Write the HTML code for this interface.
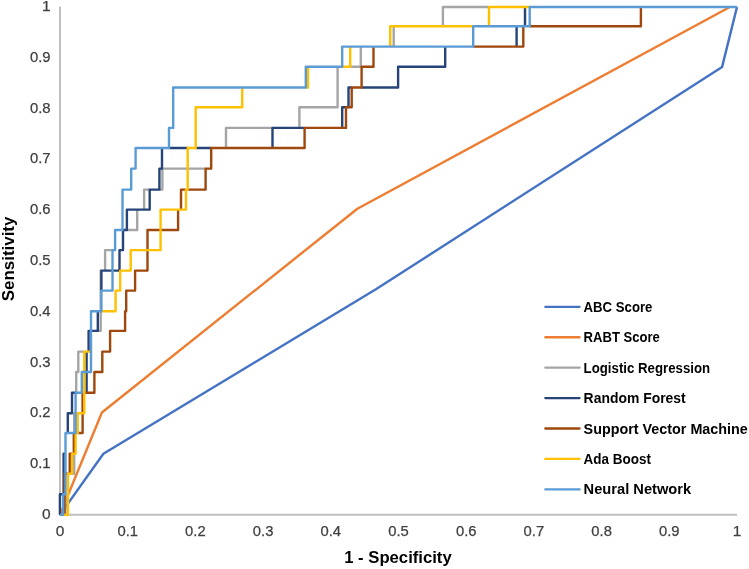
<!DOCTYPE html>
<html><head><meta charset="utf-8"><style>
html,body{margin:0;padding:0;background:#fff;}
body{width:749px;height:569px;overflow:hidden;position:relative;font-family:"Liberation Sans",sans-serif;}
svg{position:absolute;left:0;top:0;will-change:transform;}
</style></head><body>
<svg width="749" height="569" viewBox="0 0 749 569">
<rect width="749" height="569" fill="#fff"/>
<line x1="60" y1="6.5" x2="60" y2="514.7" stroke="#BFBFBF" stroke-width="2"/>
<line x1="59" y1="514.7" x2="737" y2="514.7" stroke="#BFBFBF" stroke-width="2"/>
<g fill="none" stroke-width="2.4" stroke-linejoin="round" stroke-linecap="butt">
<path d="M60,514.7L103.4,453.8L375.9,289.3L722.1,66.9L737,7" stroke="#4472C4"/>
<path d="M60,514.7L101.9,412.5L357.4,208.7L729.9,7" stroke="#ED7D31"/>
<path d="M65.5,514.7L65.5,494.2M72.1,473.7L74.2,473.7L74.2,453.7M74.2,433L74.2,413.2L76.2,413.2M76.2,392.7L76.2,372L78.3,372L78.3,351.6L84.3,351.6M97.8,330.9L100.7,330.9L100.7,270.6L101.4,270.6M105.1,270.6L105.1,250.1L112.5,250.1M122.5,230L123,230M126.9,230L137.2,230L137.2,209.6M144.1,209.6L144.1,189.6L149.7,189.6M159.4,189.6L162.4,189.6L162.4,168.6L205.6,168.6M226,148L226,127.9L272.5,127.9M299.4,127.9L299.4,107.2L337.6,107.2L337.6,66.7M350.2,66.7L360.8,66.7L360.8,46.6M393.7,46.6L393.7,26.3M442.9,26.3L442.9,7L489,7" stroke="#A5A5A5"/>
<path d="M59.9,514.7L59.9,494.2L63.1,494.2M63.6,494.2L63.6,453.7L65.5,453.7M67.8,433L67.8,413.2L72,413.2L72,392.7L75.6,392.7M81.8,392.7L82.6,392.7M86.6,392.7L86.6,351.6M88.6,351.6L88.6,330.9L97.8,330.9L97.8,311.3M101.4,290.6L101.4,270.6L119.5,270.6L119.5,250.1L123,250.1L123,230L126.9,230L126.9,209.6L149.7,209.6L149.7,189.6L159.4,189.6L159.4,168.6L162,168.6L162,148M169,148L187.7,148M195.7,148L211.2,148M272.5,148L272.5,127.9L304.6,127.9M342.2,127.9L342.2,107.2L346,107.2M348.5,107.2L348.5,87.5L351.7,87.5M361.6,87.5L398.1,87.5L398.1,66.7L445.2,66.7L445.2,46.6M516.6,46.6L516.6,26.3M525,26.3L525,7" stroke="#264478"/>
<path d="M64.5,514.7L64.5,473.7L68,473.7M69.7,473.7L69.7,453.7L72.1,453.7M73.8,453.7L73.8,433M77.7,433L82.6,433L82.6,392.7L94.4,392.7L94.4,372L102.3,372L102.3,351.6L110.1,351.6L110.1,330.9L125.1,330.9L125.1,311.3L126.2,311.3L126.2,290.6L135.1,290.6L135.1,270.6L147.5,270.6L147.5,230L178.1,230L178.1,209.6M181,209.6L181,189.6L186,189.6M187.7,189.6L205.6,189.6L205.6,168.6L211.2,168.6L211.2,148L304.6,148L304.6,127.9L346,127.9L346,107.2L351.7,107.2L351.7,87.5L361.6,87.5L361.6,66.7L373.5,66.7L373.5,46.6M473.2,46.6L523.3,46.6L523.3,26.3M529.7,26.3L640.9,26.3L640.9,7" stroke="#9E480E"/>
<path d="M63.1,514.7L68,514.7L68,473.7L72.1,473.7L72.1,453.7L75.6,453.7L75.6,433L77.7,433L77.7,413.2L84.3,413.2L84.3,351.6L91,351.6M101.4,311.3L115.6,311.3L115.6,290.6L120.2,290.6L120.2,270.6L130.7,270.6L130.7,250.1L160.6,250.1L160.6,209.6L186,209.6L186,189.6L187.7,189.6L187.7,148L195.7,148L195.7,107.2L242.2,107.2L242.2,87.5M305.8,87.5L308,87.5L308,66.7M342.2,66.7L350.2,66.7L350.2,46.6M390.2,46.6L390.2,26.3L473.2,26.3M489,26.3L489,7L529.7,7" stroke="#FFC000"/>
<path d="M60,514.7L63.1,514.7L63.1,494.2L65.5,494.2L65.5,433L75.6,433L75.6,392.7L81.8,392.7L81.8,372L91,372L91,311.3L101.4,311.3L101.4,290.6L112.5,290.6L112.5,250.1L115.1,250.1L115.1,230L122.5,230L122.5,189.6L131.2,189.6L131.2,168.6L135.6,168.6L135.6,148L169,148L169,127.9L173.2,127.9L173.2,87.5L305.8,87.5L305.8,66.7L342.2,66.7L342.2,46.6L473.2,46.6L473.2,26.3L529.7,26.3L529.7,7L737,7" stroke="#5B9BD5"/>
</g>
<g font-family="Liberation Sans, sans-serif" font-size="15.5" fill="#404040" stroke="#404040" stroke-width="0.25">
<text x="50.6" y="518.8" text-anchor="end">0</text>
<text x="50.6" y="468.0" text-anchor="end" textLength="20.6" lengthAdjust="spacingAndGlyphs">0.1</text>
<text x="50.6" y="417.3" text-anchor="end" textLength="20.6" lengthAdjust="spacingAndGlyphs">0.2</text>
<text x="50.6" y="366.5" text-anchor="end" textLength="20.6" lengthAdjust="spacingAndGlyphs">0.3</text>
<text x="50.6" y="315.7" text-anchor="end" textLength="20.6" lengthAdjust="spacingAndGlyphs">0.4</text>
<text x="50.6" y="264.9" text-anchor="end" textLength="20.6" lengthAdjust="spacingAndGlyphs">0.5</text>
<text x="50.6" y="214.2" text-anchor="end" textLength="20.6" lengthAdjust="spacingAndGlyphs">0.6</text>
<text x="50.6" y="163.4" text-anchor="end" textLength="20.6" lengthAdjust="spacingAndGlyphs">0.7</text>
<text x="50.6" y="112.6" text-anchor="end" textLength="20.6" lengthAdjust="spacingAndGlyphs">0.8</text>
<text x="50.6" y="61.8" text-anchor="end" textLength="20.6" lengthAdjust="spacingAndGlyphs">0.9</text>
<text x="50.6" y="11.1" text-anchor="end">1</text>
<text x="60.0" y="535.6" text-anchor="middle">0</text>
<text x="127.7" y="535.6" text-anchor="middle" textLength="20.6" lengthAdjust="spacingAndGlyphs">0.1</text>
<text x="195.4" y="535.6" text-anchor="middle" textLength="20.6" lengthAdjust="spacingAndGlyphs">0.2</text>
<text x="263.1" y="535.6" text-anchor="middle" textLength="20.6" lengthAdjust="spacingAndGlyphs">0.3</text>
<text x="330.8" y="535.6" text-anchor="middle" textLength="20.6" lengthAdjust="spacingAndGlyphs">0.4</text>
<text x="398.5" y="535.6" text-anchor="middle" textLength="20.6" lengthAdjust="spacingAndGlyphs">0.5</text>
<text x="466.2" y="535.6" text-anchor="middle" textLength="20.6" lengthAdjust="spacingAndGlyphs">0.6</text>
<text x="533.9" y="535.6" text-anchor="middle" textLength="20.6" lengthAdjust="spacingAndGlyphs">0.7</text>
<text x="601.6" y="535.6" text-anchor="middle" textLength="20.6" lengthAdjust="spacingAndGlyphs">0.8</text>
<text x="669.3" y="535.6" text-anchor="middle" textLength="20.6" lengthAdjust="spacingAndGlyphs">0.9</text>
<text x="737.0" y="535.6" text-anchor="middle">1</text>
</g>
<g font-family="Liberation Sans, sans-serif" font-size="15" font-weight="bold" fill="#000">
<line x1="545.3" y1="306.80" x2="579.6" y2="306.80" stroke="#4472C4" stroke-width="2.3" stroke-linecap="round"/>
<text x="583.6" y="311.90" textLength="68.8" lengthAdjust="spacingAndGlyphs">ABC Score</text>
<line x1="545.3" y1="337.23" x2="579.6" y2="337.23" stroke="#ED7D31" stroke-width="2.3" stroke-linecap="round"/>
<text x="583.6" y="342.33" textLength="76.2" lengthAdjust="spacingAndGlyphs">RABT Score</text>
<line x1="545.3" y1="367.66" x2="579.6" y2="367.66" stroke="#A5A5A5" stroke-width="2.3" stroke-linecap="round"/>
<text x="583.6" y="372.76" textLength="126.5" lengthAdjust="spacingAndGlyphs">Logistic Regression</text>
<line x1="545.3" y1="398.09" x2="579.6" y2="398.09" stroke="#264478" stroke-width="2.3" stroke-linecap="round"/>
<text x="583.6" y="403.19" textLength="102.1" lengthAdjust="spacingAndGlyphs">Random Forest</text>
<line x1="545.3" y1="428.52" x2="579.6" y2="428.52" stroke="#9E480E" stroke-width="2.3" stroke-linecap="round"/>
<text x="583.6" y="433.62" textLength="164.2" lengthAdjust="spacingAndGlyphs">Support Vector Machine</text>
<line x1="545.3" y1="458.95" x2="579.6" y2="458.95" stroke="#FFC000" stroke-width="2.3" stroke-linecap="round"/>
<text x="583.6" y="464.05" textLength="67.3" lengthAdjust="spacingAndGlyphs">Ada Boost</text>
<line x1="545.3" y1="489.38" x2="579.6" y2="489.38" stroke="#5B9BD5" stroke-width="2.3" stroke-linecap="round"/>
<text x="583.6" y="494.48" textLength="107.6" lengthAdjust="spacingAndGlyphs">Neural Network</text>
</g>
<text x="397.95" y="562.8" text-anchor="middle" textLength="107.5" lengthAdjust="spacingAndGlyphs" font-family="Liberation Sans, sans-serif" font-size="16" font-weight="bold" fill="#000">1 - Specificity</text>
<text transform="translate(13.6,258.9) rotate(-90)" text-anchor="middle" textLength="84.6" lengthAdjust="spacingAndGlyphs" font-family="Liberation Sans, sans-serif" font-size="16" font-weight="bold" fill="#000">Sensitivity</text>
</svg>
</body></html>
